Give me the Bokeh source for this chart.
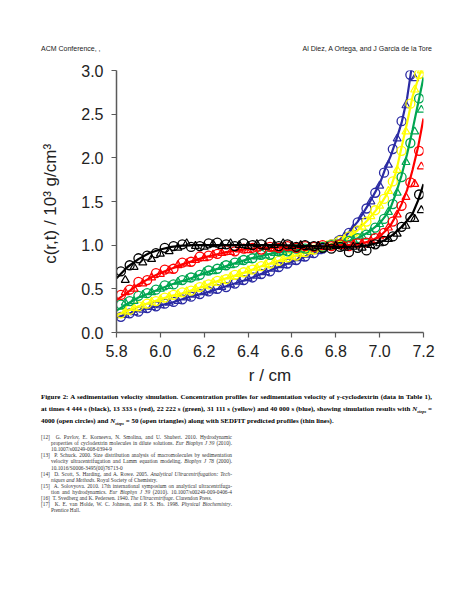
from bokeh.plotting import figure
from bokeh.layouts import column
from bokeh.models import Range1d, FixedTicker, NumeralTickFormatter, Div
from bokeh.embed import file_html
from bokeh.resources import INLINE

# Radial positions (cm) for the SEDFIT predicted profiles
r_line = [5.80, 5.85, 5.90, 5.95, 6.00, 6.05, 6.10, 6.15, 6.20, 6.25, 6.30,
          6.35, 6.40, 6.45, 6.50, 6.55, 6.60, 6.65, 6.70, 6.75, 6.80, 6.85,
          6.90, 6.95, 7.00, 7.025, 7.05, 7.075, 7.10, 7.125, 7.15, 7.175, 7.20]

# Predicted concentration c(r,t) / 10^3 g/cm^3 at each time
line_black = [0.62, 0.75, 0.84, 0.91, 0.95, 0.98, 0.995, 1.00, 1.00, 1.00, 1.00,
              1.00, 1.00, 1.00, 1.00, 1.00, 0.995, 0.99, 0.99, 0.985, 0.98, 0.98,
              0.985, 1.00, 1.03, 1.06, 1.10, 1.15, 1.21, 1.28, 1.36, 1.51, 1.70]
line_red = [0.37, 0.46, 0.55, 0.62, 0.68, 0.73, 0.78, 0.82, 0.86, 0.89, 0.92,
            0.94, 0.955, 0.965, 0.97, 0.975, 0.98, 0.98, 0.985, 0.99, 1.00, 1.00,
            1.01, 1.04, 1.10, 1.16, 1.23, 1.34, 1.47, 1.63, 1.86, 2.12, 2.45]
line_green = [0.25, 0.33, 0.40, 0.45, 0.50, 0.55, 0.59, 0.63, 0.68, 0.72, 0.76,
              0.80, 0.84, 0.87, 0.90, 0.92, 0.94, 0.96, 0.975, 0.99, 1.01, 1.04,
              1.08, 1.15, 1.25, 1.33, 1.43, 1.60, 1.80, 2.04, 2.32, 2.62, 2.92]
line_yellow = [0.20, 0.25, 0.30, 0.34, 0.38, 0.42, 0.45, 0.49, 0.53, 0.58, 0.62,
               0.66, 0.70, 0.75, 0.79, 0.83, 0.87, 0.91, 0.95, 0.985, 1.03, 1.08,
               1.17, 1.30, 1.45, 1.55, 1.66, 1.84, 2.12, 2.40, 2.70, 2.90, 3.08]
line_blue = [0.17, 0.21, 0.25, 0.28, 0.31, 0.34, 0.38, 0.42, 0.45, 0.49, 0.53,
             0.57, 0.61, 0.66, 0.71, 0.76, 0.81, 0.86, 0.91, 0.97, 1.03, 1.12,
             1.27, 1.47, 1.70, 1.87, 2.02, 2.20, 2.40, 2.68, 3.10, 3.50, 3.90]

# Simulation, N_steps = 4000 (open circles)
r_circ = [5.82, 5.86, 5.90, 5.94, 5.98, 6.02, 6.06, 6.10, 6.14, 6.18, 6.22, 6.26,
          6.30, 6.34, 6.38, 6.42, 6.46, 6.50, 6.54, 6.58, 6.62, 6.66, 6.70, 6.74,
          6.78, 6.82, 6.86, 6.90, 6.94, 6.98, 7.02, 7.06, 7.10, 7.14, 7.18]
circ_black = [0.70, 0.77, 0.85, 0.88, 0.91, 0.97, 0.99, 1.01, 0.98, 0.99, 1.02, 1.03,
              1.01, 0.99, 1.02, 1.00, 1.01, 1.03, 0.99, 1.01, 0.98, 1.00, 0.99, 0.97,
              0.96, 0.98, 0.92, 0.97, 0.94, 1.01, 1.05, 1.10, 1.21, 1.32, 1.58]
circ_red = [0.43, 0.49, 0.58, 0.60, 0.68, 0.72, 0.73, 0.80, 0.81, 0.87, 0.88, 0.90,
            0.94, 0.93, 0.96, 0.97, 0.95, 0.98, 0.97, 0.99, 0.97, 0.99, 0.98, 1.00,
            0.99, 1.01, 0.99, 1.02, 1.03, 1.08, 1.14, 1.27, 1.45, 1.72, 2.08]
circ_green = [0.32, 0.36, 0.42, 0.45, 0.49, 0.54, 0.55, 0.60, 0.63, 0.66, 0.71, 0.73,
              0.77, 0.80, 0.83, 0.85, 0.89, 0.89, 0.93, 0.93, 0.96, 0.96, 0.98, 0.98,
              1.00, 1.01, 1.05, 1.08, 1.12, 1.20, 1.30, 1.47, 1.78, 2.17, 2.68]
circ_yellow = [0.22, 0.26, 0.30, 0.33, 0.36, 0.40, 0.43, 0.46, 0.48, 0.52, 0.55, 0.59,
               0.61, 0.66, 0.69, 0.72, 0.76, 0.79, 0.82, 0.86, 0.88, 0.92, 0.95, 0.98,
               1.01, 1.05, 1.10, 1.17, 1.27, 1.40, 1.53, 1.73, 2.08, 2.62, 2.96]
circ_blue = [0.18, 0.22, 0.24, 0.28, 0.30, 0.33, 0.35, 0.38, 0.41, 0.44, 0.47, 0.50,
             0.52, 0.56, 0.60, 0.63, 0.67, 0.70, 0.75, 0.79, 0.83, 0.87, 0.91, 0.96,
             1.01, 1.06, 1.14, 1.26, 1.42, 1.60, 1.83, 2.10, 2.42, 2.95, 3.50]

# Simulation, N_steps = 50 (open triangles)
r_tri = [5.84, 5.88, 5.92, 5.96, 6.00, 6.04, 6.08, 6.12, 6.16, 6.20, 6.24, 6.28,
         6.32, 6.36, 6.40, 6.44, 6.48, 6.52, 6.56, 6.60, 6.64, 6.68, 6.72, 6.76,
         6.80, 6.84, 6.88, 6.92, 6.96, 7.00, 7.04, 7.08, 7.12, 7.16, 7.19]
tri_black = [0.60, 0.75, 0.80, 0.84, 0.90, 0.93, 0.97, 1.02, 0.99, 0.98, 1.01, 0.99,
             1.02, 1.00, 0.99, 1.01, 0.98, 1.00, 1.02, 0.99, 1.00, 0.98, 0.99, 0.98,
             0.99, 0.97, 0.98, 0.97, 1.00, 1.02, 1.07, 1.13, 1.22, 1.30, 1.40]
tri_red = [0.46, 0.50, 0.56, 0.63, 0.67, 0.71, 0.77, 0.79, 0.83, 0.85, 0.89, 0.91,
           0.92, 0.95, 0.94, 0.96, 0.98, 0.96, 0.98, 0.97, 0.99, 0.98, 0.99, 0.98,
           1.00, 0.99, 1.01, 1.02, 1.05, 1.10, 1.20, 1.35, 1.55, 1.70, 1.90]
tri_green = [0.34, 0.36, 0.43, 0.46, 0.50, 0.53, 0.58, 0.61, 0.63, 0.69, 0.70, 0.75,
             0.77, 0.81, 0.83, 0.87, 0.88, 0.91, 0.92, 0.95, 0.95, 0.97, 0.98, 0.99,
             1.01, 1.02, 1.06, 1.10, 1.15, 1.24, 1.38, 1.60, 1.95, 2.30, 2.55]
tri_yellow = [0.24, 0.28, 0.31, 0.35, 0.38, 0.41, 0.44, 0.47, 0.50, 0.54, 0.57, 0.60,
              0.64, 0.67, 0.71, 0.74, 0.78, 0.81, 0.84, 0.87, 0.90, 0.93, 0.96, 1.00,
              1.03, 1.07, 1.13, 1.21, 1.33, 1.45, 1.62, 1.86, 2.30, 2.78, 3.00]
tri_blue = [0.20, 0.23, 0.26, 0.29, 0.31, 0.34, 0.36, 0.40, 0.43, 0.46, 0.48, 0.52,
            0.55, 0.58, 0.62, 0.65, 0.69, 0.73, 0.77, 0.81, 0.85, 0.89, 0.93, 0.98,
            1.04, 1.10, 1.19, 1.33, 1.50, 1.68, 1.92, 2.22, 2.60, 2.91, 3.40]

x_ticks = [5.8, 6.0, 6.2, 6.4, 6.6, 6.8, 7.0, 7.2]
y_ticks = [0.0, 0.5, 1.0, 1.5, 2.0, 2.5, 3.0]

series = [
    ("#2b2ba3", line_blue, circ_blue, tri_blue),
    ("#ffff00", line_yellow, circ_yellow, tri_yellow),
    ("#00a651", line_green, circ_green, tri_green),
    ("#ff0000", line_red, circ_red, tri_red),
    ("#000000", line_black, circ_black, tri_black),
]

header_left = "ACM Conference, ,"
header_right = "Al Diez, A Ortega, and J Garcia de la Tore"

NSTEPS = "<i>N</i><sub style='font-size:65%'><i>steps</i></sub>"
caption_lines = [
    "Figure 2: A sedimentation velocity simulation. Concentration profiles for sedimentation velocity of <i>&gamma;</i>-cyclodextrin (data in Table 1),",
    "at times 4 444 s (black), 13 333 s (red), 22 222 s (green), 31 111 s (yellow) and 40 000 s (blue), showing simulation results with " + NSTEPS + " =",
    "4000 (open circles) and " + NSTEPS + " = 50 (open triangles) along with SEDFIT predicted profiles (thin lines).",
]

# (text, hanging indent, justified)
ref_lines = [
    ("[12]&nbsp; G. Pavlov, E. Korneeva, N. Smolina, and U. Shubert. 2010. Hydrodynamic", 0, True),
    ("properties of cyclodextrin molecules in dilute solutions. <i>Eur Biophys J 39</i> (2010).", 1, True),
    ("10.1007/s00249-008-0394-9", 1, False),
    ("[13]&nbsp; P. Schuck. 2000. Size distribution analysis of macromolecules by sedimentation", 0, True),
    ("velocity ultracentrifugation and Lamm equation modeling. <i>Biophys J 78</i> (2000).", 1, True),
    ("10.1016/S0006-3495(00)76713-0", 1, False),
    ("[14]&nbsp; D. Scott, S. Harding, and A. Rowe. 2005. <i>Analytical Ultracentrifugation: Tech-</i>", 0, True),
    ("<i>niques and Methods</i>. Royal Society of Chemistry.", 1, False),
    ("[15]&nbsp; A. Solovyova. 2010. 17th international symposium on analytical ultracentrifuga-", 0, True),
    ("tion and hydrodynamics. <i>Eur Biophys J 39</i> (2010). 10.1007/s00249-009-0406-4", 1, True),
    ("[16]&nbsp; T. Svedberg and K. Pedersen. 1940. <i>The Ultracentrifuge</i>. Clarendon Press.", 0, False),
    ("[17]&nbsp; K. E. van Holde, W. C. Johnson, and P. S. Ho. 1998. <i>Physical Biochemistry</i>.", 0, True),
    ("Prentice Hall.", 1, False),
]

W, H = 474, 613
TOP_H = 60          # strip holding the running header
MAIN_BOTTOM = 392   # page y where the chart block ends
frame_left, frame_right, frame_top, frame_bottom = 116, 423, 70, 332


def line_div(html, left, top, width, size, family, extra="", justify=False):
    just = "text-align:justify;text-align-last:justify;" if justify else "text-align:left;"
    return (f"<div style=\"position:absolute;left:{left}px;top:{top}px;width:{width}px;"
            f"font-family:{family};font-size:{size}px;line-height:{size * 1.2:.2f}px;"
            f"{just}{extra}\">{html}</div>")


SANS = "'Liberation Sans', Arial, sans-serif"
SERIF = "'Liberation Serif', 'Times New Roman', serif"

# Running header
top_html = "".join([
    line_div(header_left, 41, 45, 200, 7, SANS, "color:#1a1a1a;white-space:nowrap;"),
    line_div(header_right, 232, 45, 200, 7, SANS, "color:#1a1a1a;white-space:nowrap;text-align:right;"),
])
top = Div(text=f"<div style='position:relative;width:{W}px;height:{TOP_H}px;'>{top_html}</div>",
          width=W, height=TOP_H, margin=0)

# Concentration profiles
p = figure(width=W, height=MAIN_BOTTOM - TOP_H, output_backend="svg", toolbar_location=None,
           x_range=Range1d(5.8, 7.2), y_range=Range1d(0.0, 3.0),
           min_border_left=frame_left, min_border_right=W - frame_right,
           min_border_top=frame_top - TOP_H, min_border_bottom=MAIN_BOTTOM - frame_bottom)
p.outline_line_color = None
p.grid.visible = False
p.background_fill_color = "white"
p.border_fill_color = "white"

for ax in (p.xaxis[0], p.yaxis[0]):
    ax.axis_line_color = "#5a5a5a"
    ax.axis_line_width = 1.5
    ax.major_tick_line_color = "#5a5a5a"
    ax.major_tick_line_width = 1.2
    ax.major_tick_out = 5
    ax.major_tick_in = 0
    ax.minor_tick_line_color = None
    ax.major_label_text_font = "Liberation Sans"
    ax.major_label_text_font_size = "16px"
    ax.major_label_text_color = "#222222"
    ax.axis_label_text_font = "Liberation Sans"
    ax.axis_label_text_font_size = "17px"
    ax.axis_label_text_font_style = "normal"
    ax.axis_label_text_color = "#222222"
    ax.formatter = NumeralTickFormatter(format="0.0")

p.xaxis.ticker = FixedTicker(ticks=x_ticks)
p.yaxis.ticker = FixedTicker(ticks=y_ticks)
p.xaxis.axis_label = "r / cm"
p.yaxis.axis_label = "c(r,t)  / 10\u00b3 g/cm\u00b3"
p.xaxis.major_label_standoff = 7
p.xaxis.axis_label_standoff = 6
p.yaxis.major_label_standoff = 8
p.yaxis.axis_label_standoff = 18

for color, ln, circ, tri in series:
    p.line(r_line, ln, line_color=color, line_width=2.2)
    p.scatter(r_circ, circ, marker="circle", size=9, fill_color=None,
              line_color=color, line_width=1.3)
    p.scatter(r_tri, tri, marker="triangle", size=8, fill_color=None,
              line_color=color, line_width=1.2)

# Caption and reference list (positions are page px, offset to this strip)
parts = []
for i, html in enumerate(caption_lines):
    parts.append(line_div(html, 41, 393 + 12 * i - MAIN_BOTTOM, 391, 6.9, SERIF,
                          "font-weight:bold;color:#000;", justify=(i < 2)))
for i, (html, indent, just) in enumerate(ref_lines):
    left = 41 + 10 * indent
    parts.append(line_div(html, left, 434 + 6.1 * i - MAIN_BOTTOM, 232 - left, 5.35, SERIF,
                          "color:#333;", justify=just))
bot = Div(text=f"<div style='position:relative;width:{W}px;height:{H - MAIN_BOTTOM}px;'>{''.join(parts)}</div>",
          width=W, height=H - MAIN_BOTTOM, margin=0)

page = column(top, p, bot, spacing=0)
open("out.html", "w").write(file_html(page, INLINE))
